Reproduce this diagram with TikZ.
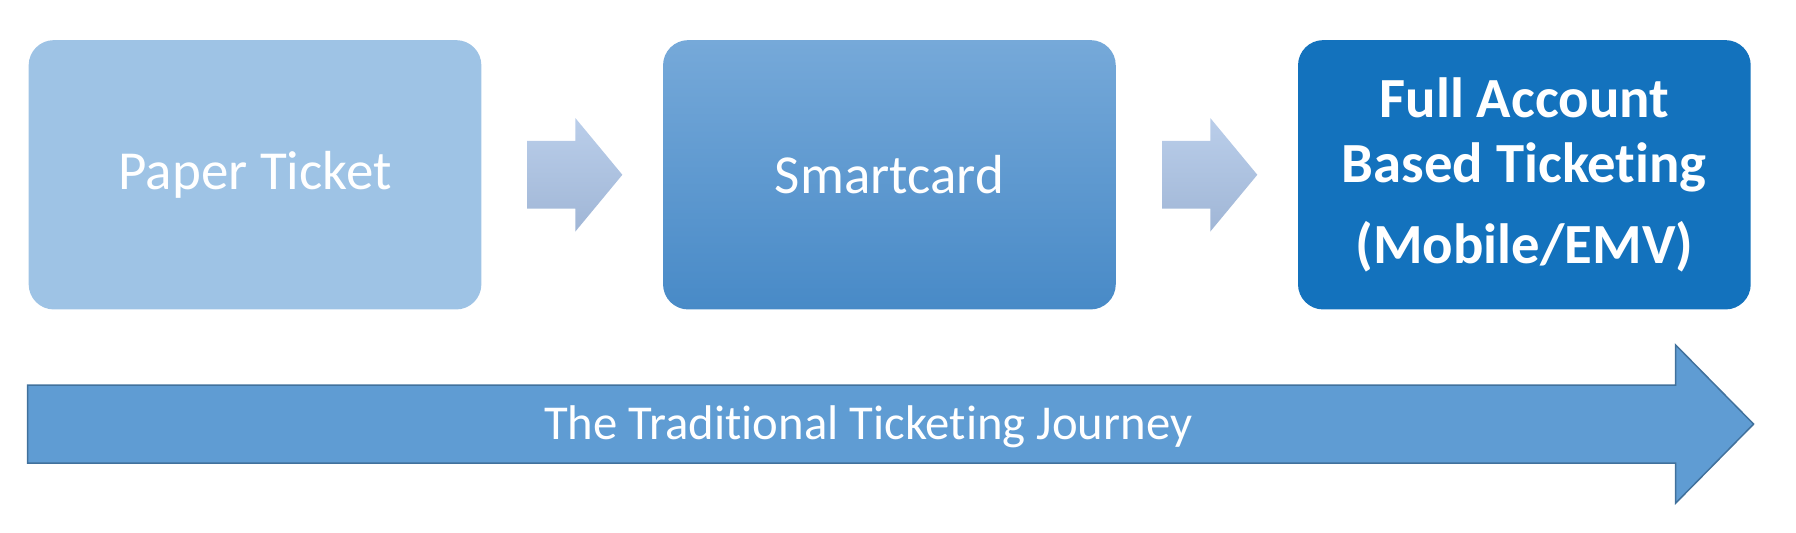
\documentclass[tikz,border=0pt]{standalone}
\usepackage{fontspec}
\setmainfont{Carlito}[Ligatures=NoCommon]
\definecolor{boxA}{RGB}{158,195,229}
\definecolor{boxBtop}{RGB}{118,169,217}
\definecolor{boxBmid}{RGB}{94,157,216}
\definecolor{boxBbot}{RGB}{72,138,199}
\definecolor{boxC}{RGB}{19,114,189}
\definecolor{arrTop}{RGB}{186,206,234}
\definecolor{arrBot}{RGB}{160,182,214}
\definecolor{bigFill}{RGB}{95,156,211}
\definecolor{bigLine}{RGB}{65,113,156}
\begin{document}
\begin{tikzpicture}[x=1pt,y=-1pt]
\tikzset{
  stagebox/.style={rounded corners=22pt, minimum width=395pt, minimum height=235pt,
    text=white, inner sep=0pt, align=center},
  stagefont/.style={font=\fontsize{48}{57}\selectfont},
  smallarrow/.style={top color=arrTop, middle color=arrTop, bottom color=arrBot},
  bigarrow/.style={fill=bigFill, draw=bigLine, line width=1.3pt, line join=miter}
}
\useasboundingbox (0,0) rectangle (1567,464.2);
% stage boxes
\node[stagebox, stagefont, fill=boxA] (b1) at (222.5,152.5) {\raisebox{-1.5pt}{Paper Ticket}};
\node[stagebox, stagefont, top color=boxBtop, middle color=boxBmid, bottom color=boxBbot] (b2) at (776,152.5) {\raisebox{-1.5pt}{Smartcard}};
\node[stagebox, fill=boxC, font=\fontsize{49.5}{57}\selectfont\bfseries] (b3) at (1330,152.5)
  {Full Account\\Based Ticketing\\[13pt](Mobile/EMV)};
% small arrows between boxes
\shade[smallarrow] (460,123) -- (502,123) -- (502,103) -- (543,152.5) -- (502,202) -- (502,182) -- (460,182) -- cycle;
\shade[smallarrow] (1014,123) -- (1056,123) -- (1056,103) -- (1097,152.5) -- (1056,202) -- (1056,182) -- (1014,182) -- cycle;
% big journey arrow
\draw[bigarrow] (24,336) -- (1462,336) -- (1462,301) -- (1530,370) -- (1462,439) -- (1462,404) -- (24,404) -- cycle;
\node[text=white, font=\fontsize{42.5}{50}\selectfont, inner sep=0pt] (journey) at (757.5,372) {The Traditional Ticketing Journey};
\end{tikzpicture}
\end{document}
